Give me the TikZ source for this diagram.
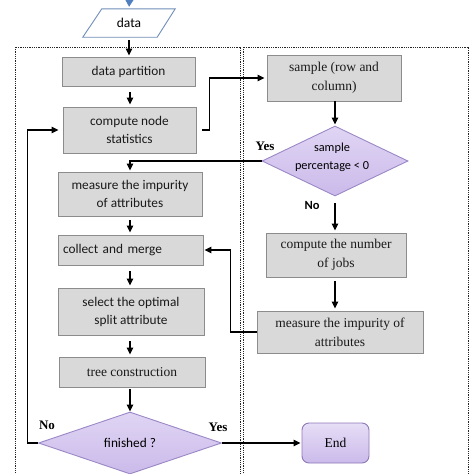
\documentclass[tikz,border=0pt]{standalone}
\usepackage{fontspec}
\setmainfont{Liberation Serif}
\newfontfamily\calib{Carlito}
\usetikzlibrary{shapes.geometric,arrows.meta}
\definecolor{boxfill}{HTML}{D9D9D9}
\definecolor{boxdraw}{HTML}{8C8C8C}
\definecolor{diadraw}{HTML}{9A88C6}
\definecolor{diatop}{HTML}{E0D5F4}
\definecolor{diabot}{HTML}{CBBAEA}
\definecolor{datadraw}{HTML}{6F8DB8}
\definecolor{bluearr}{HTML}{4F7FC0}
\definecolor{enddraw}{HTML}{8D79B8}
\definecolor{txt}{HTML}{1A1A1A}
\begin{document}
\begin{tikzpicture}[x=1pt,y=-1pt,
  gbox/.style={draw=boxdraw,fill=boxfill,line width=0.9pt,align=center,inner sep=1pt,text=txt},
  sansbox/.style={gbox,font=\calib\fontsize{13.3}{18}\selectfont},
  serifbox/.style={gbox,font=\fontsize{13.5}{19}\selectfont},
  dia/.style={diamond,draw=diadraw,top color=diatop,bottom color=diabot,line width=0.9pt,inner sep=0pt},
  conn/.style={draw=black,line width=1.1pt},
  arr/.style={conn,-{Triangle[length=7pt,width=6.5pt]}},
  lab/.style={font=\bfseries\fontsize{13}{15}\selectfont,inner sep=0pt},
  sanslab/.style={font=\calib\bfseries\fontsize{12.5}{15}\selectfont,inner sep=0pt},
  frame/.style={draw=black!85,line width=1pt,dash pattern=on 1pt off 0.8pt}
]
\useasboundingbox (0,0) rectangle (474,474);
% dotted frames
\draw[frame] (15,47) rectangle (240,480);
\draw[frame] (243,47) rectangle (468,480);

% data
\node[minimum width=74pt,minimum height=28pt,inner sep=0pt,
      font=\calib\fontsize{13.5}{16}\selectfont] (data) at (129,23) {data};
\draw[draw=datadraw,line width=0.9pt] ([xshift=-9pt]data.south west) -- ([xshift=10pt]data.north west)
  -- ([xshift=9pt]data.north east) -- ([xshift=-9pt]data.south east) -- cycle;
\coordinate (topin) at (130,-15);

% left column
\node[sansbox,minimum width=133pt,minimum height=29pt] (dp) at (128.5,71.5) {data partition};
\node[sansbox,minimum width=133pt,minimum height=46pt] (cns) at (129.5,130) {compute node\\statistics};
\node[sansbox,minimum width=144pt,minimum height=44pt] (mia) at (130,194) {measure the impurity\\of attributes};
\node[sansbox,minimum width=145pt,minimum height=30pt,text width=135pt,align=left] (cm) at (130.5,250) {collect and merge};
\node[sansbox,minimum width=146pt,minimum height=47pt] (sos) at (131,311.5) {select the optimal\\split attribute};
\node[serifbox,minimum width=146pt,minimum height=30pt] (tc) at (132,372) {tree construction};
\node[dia,minimum width=183pt,minimum height=62pt,font=\calib\fontsize{13.3}{16}\selectfont] (fin) at (130,443) {finished ?};

% right column
\node[serifbox,minimum width=134pt,minimum height=46pt] (src) at (334,78) {sample (row and\\column)};
\node[dia,minimum width=146pt,minimum height=70pt] (sp) at (335,161) {};
\node[font=\calib\fontsize{12.3}{18}\selectfont,align=center,inner sep=0pt] (sptxt) at (332,157) {sample\\percentage < 0};
\node[serifbox,minimum width=140pt,minimum height=44pt] (cnj) at (336,255) {compute the number\\of jobs};
\node[serifbox,minimum width=166pt,minimum height=42pt] (mir) at (340,332) {measure the impurity of\\attributes};
\node[draw=enddraw,rounded corners=7pt,top color=diatop!80!white,bottom color=diabot,line width=0.9pt,
      minimum width=67pt,minimum height=40pt,font=\fontsize{13.5}{16}\selectfont] (end) at (335.5,443) {End};

% labels
\node[lab] (yes1) at (265,146) {Yes};
\node[sanslab] (no1) at (312,205) {No};
\node[lab] (no2) at (47,425) {No};
\node[lab] (yes2) at (218,427) {Yes};

% connectors
\draw[conn,draw=bluearr,-{Triangle[length=7pt,width=8pt]},shorten >=2pt] (topin) -- (data.north);
\draw[arr,shorten <=3pt,shorten >=1pt] (data.south) -- (data.south |- dp.north);
\draw[arr,shorten <=6pt,shorten >=2pt] (fin.north |- dp.south) -- (fin.north |- cns.north);
\draw[arr,shorten <=6pt,shorten >=2pt] (cns.east) -- ++(13,0) |- (src.west);
\draw[arr,shorten >=1pt] (sp.north |- src.south) -- (sp.north);
\draw[arr,shorten >=1pt] (sp.west) -| (mia.north);
\draw[arr,shorten <=7pt,shorten >=2pt] (sp.south) -- (sp.south |- cnj.north);
\draw[arr,shorten <=4pt,shorten >=2pt] (sp.south |- cnj.south) -- (sp.south |- mir.north);
\draw[arr,shorten >=1pt] (mir.west) -- ++(-26,0) |- (cm.east);
\draw[arr,shorten <=4pt,shorten >=2pt] (fin.north |- mia.south) -- (fin.north |- cm.north);
\draw[arr,shorten <=6pt,shorten >=2pt] (fin.north |- cm.south) -- (fin.north |- sos.north);
\draw[arr,shorten <=6pt,shorten >=2pt] (fin.north |- sos.south) -- (fin.north |- tc.north);
\draw[arr,shorten <=2pt] (fin.north |- tc.south) -- (fin.north);
\draw[arr,shorten >=4pt] (fin.west) -- ++(-11,0) |- (cns.west);
\draw[arr,shorten >=1pt] (fin.east) -- (end.west);
\end{tikzpicture}
\end{document}
